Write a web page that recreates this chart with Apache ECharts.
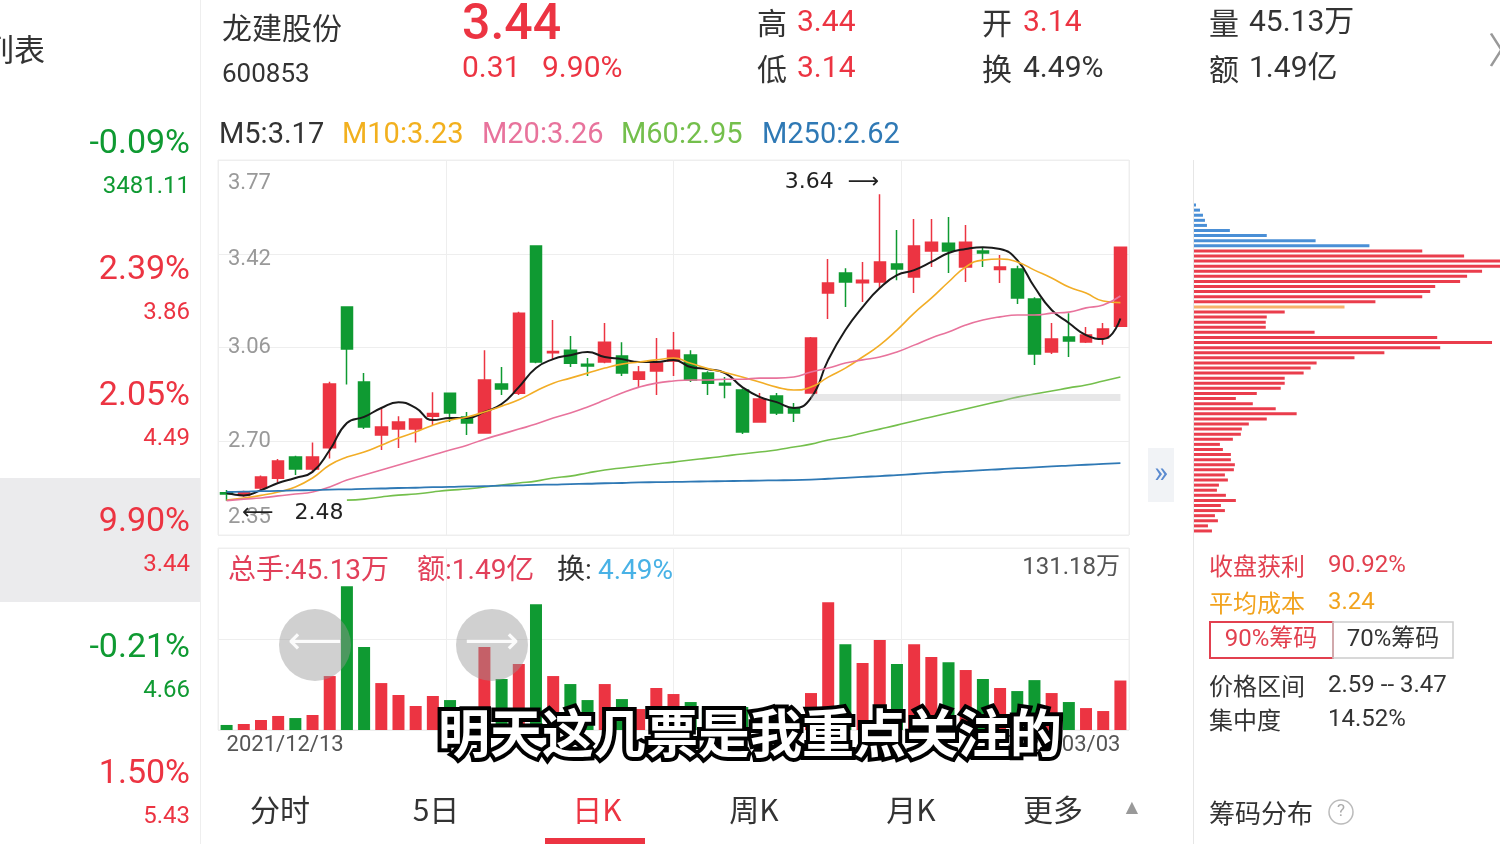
<!DOCTYPE html>
<html>
<head>
<meta charset="utf-8">
<title>龙建股份 日K</title>
<script src="https://cdn.jsdelivr.net/npm/echarts@6/dist/echarts.min.js"></script>
<style>
html, body { margin: 0; padding: 0; background: #fff; }
#main { width: 1500px; height: 844px; }
</style>
</head>
<body>
<div id="main"></div>
<script>
// trading days shown on the daily K chart
var dates = [
    '2021/12/13', '2021/12/14', '2021/12/15', '2021/12/16', '2021/12/17', '2021/12/20', '2021/12/21',
    '2021/12/22', '2021/12/23', '2021/12/24', '2021/12/27', '2021/12/28', '2021/12/29', '2021/12/30',
    '2021/12/31', '2022/01/04', '2022/01/05', '2022/01/06', '2022/01/07', '2022/01/10', '2022/01/11',
    '2022/01/12', '2022/01/13', '2022/01/14', '2022/01/17', '2022/01/18', '2022/01/19', '2022/01/20',
    '2022/01/21', '2022/01/24', '2022/01/25', '2022/01/26', '2022/01/27', '2022/01/28', '2022/02/07',
    '2022/02/08', '2022/02/09', '2022/02/10', '2022/02/11', '2022/02/14', '2022/02/15', '2022/02/16',
    '2022/02/17', '2022/02/18', '2022/02/21', '2022/02/22', '2022/02/23', '2022/02/24', '2022/02/25',
    '2022/02/28', '2022/03/01', '2022/03/02', '2022/03/03'
];
// open, close, low, high
var kData = [
    [2.51, 2.505, 2.48, 2.52], [2.50, 2.512, 2.495, 2.518], [2.528, 2.57, 2.52, 2.575], [2.565, 2.63, 2.55, 2.638],
    [2.645, 2.60, 2.577, 2.65], [2.60, 2.645, 2.59, 2.70], [2.68, 2.922, 2.64, 2.93], [3.213, 3.054, 2.92, 3.215],
    [2.929, 2.759, 2.751, 2.963], [2.729, 2.759, 2.672, 2.835], [2.751, 2.778, 2.679, 2.80], [2.751, 2.789, 2.70, 2.792],
    [2.80, 2.81, 2.767, 2.891], [2.887, 2.812, 2.778, 2.89], [2.797, 2.774, 2.729, 2.816], [2.736, 2.937, 2.733, 3.05],
    [2.922, 2.903, 2.88, 2.986], [2.887, 3.19, 2.88, 3.195], [3.444, 3.005, 3.0, 3.446], [3.04, 3.045, 3.013, 3.164],
    [3.05, 3.00, 2.986, 3.104], [2.997, 2.99, 2.952, 3.02], [3.005, 3.08, 3.0, 3.153], [3.028, 2.963, 2.952, 3.08],
    [2.94, 2.967, 2.91, 2.99], [2.971, 3.001, 2.88, 3.096], [3.009, 3.05, 2.952, 3.119], [3.032, 2.937, 2.929, 3.05],
    [2.963, 2.925, 2.88, 2.97], [2.925, 2.918, 2.868, 2.948], [2.899, 2.74, 2.732, 2.905], [2.778, 2.865, 2.775, 2.888],
    [2.876, 2.812, 2.804, 2.888], [2.83, 2.812, 2.778, 2.85], [2.888, 3.096, 2.885, 3.10], [3.266, 3.304, 3.168, 3.395],
    [3.342, 3.308, 3.213, 3.36], [3.305, 3.315, 3.232, 3.384], [3.308, 3.384, 3.285, 3.64], [3.376, 3.357, 3.315, 3.505],
    [3.327, 3.444, 3.266, 3.547], [3.425, 3.459, 3.365, 3.547], [3.455, 3.425, 3.342, 3.554], [3.365, 3.459, 3.308, 3.524],
    [3.425, 3.418, 3.365, 3.44], [3.355, 3.365, 3.304, 3.41], [3.357, 3.247, 3.225, 3.37], [3.244, 3.035, 2.994, 3.25],
    [3.043, 3.092, 3.035, 3.153], [3.10, 3.085, 3.024, 3.19], [3.081, 3.107, 3.077, 3.138], [3.096, 3.13, 3.07, 3.153],
    [3.14, 3.44, 3.14, 3.44]
];
// 成交量, 万手
var volumes = [
    4.6, 5.5, 9.1, 12.8, 10.9, 13.7, 49.2, 131.18, 75.6, 42.8, 31.9, 21.9, 31.0, 27.3, 20, 75.6, 46.5, 60.1,
    114.8, 49.2, 41.9, 27.3, 41.9, 28.2, 19.1, 38.3, 32.8, 25.5, 20, 15, 21, 18, 15, 12, 33.7, 116.6, 78.3, 61.0,
    82.0, 60.1, 78.3, 66.5, 61.9, 54.7, 46.5, 38.3, 35.5, 45.5, 33.7, 25.5, 20.0, 17.3, 45.13
];
var ma5 = [
    2.509, 2.50, 2.52, 2.547, 2.566, 2.589, 2.672, 2.774, 2.797, 2.831, 2.853, 2.831, 2.785, 2.793, 2.793, 2.816,
    2.846, 2.91, 2.982, 3.016, 3.031, 3.043, 3.024, 3.016, 3.005, 3.005, 3.013, 2.986, 2.978, 2.963, 2.91, 2.873,
    2.853, 2.831, 2.869, 3.013, 3.126, 3.213, 3.285, 3.334, 3.353, 3.384, 3.418, 3.433, 3.44, 3.433, 3.391, 3.289,
    3.202, 3.153, 3.107, 3.092, 3.17
];
var ma10 = [
    2.482, 2.49, 2.50, 2.513, 2.532, 2.566, 2.615, 2.645, 2.664, 2.69, 2.717, 2.74, 2.766, 2.785, 2.797, 2.816,
    2.838, 2.862, 2.895, 2.925, 2.944, 2.963, 2.982, 2.997, 3.005, 3.013, 3.02, 3.0, 2.98, 2.965, 2.948, 2.929,
    2.91, 2.899, 2.91, 2.948, 2.982, 3.024, 3.069, 3.126, 3.19, 3.247, 3.308, 3.365, 3.391, 3.395, 3.384, 3.353,
    3.323, 3.289, 3.266, 3.236, 3.23
];
var ma20 = [
    2.48, 2.486, 2.49, 2.498, 2.505, 2.513, 2.532, 2.558, 2.577, 2.596, 2.615, 2.634, 2.653, 2.672, 2.69, 2.713,
    2.732, 2.751, 2.77, 2.793, 2.812, 2.835, 2.861, 2.888, 2.91, 2.925, 2.933, 2.937, 2.937, 2.94, 2.94, 2.944,
    2.944, 2.948, 2.967, 2.982, 3.001, 3.013, 3.024, 3.043, 3.069, 3.096, 3.119, 3.145, 3.164, 3.176, 3.183, 3.183,
    3.19, 3.194, 3.21, 3.221, 3.255
];
var ma60 = [
    null, null, null, null, null, null, null, 2.482, 2.486, 2.494, 2.501, 2.505, 2.513, 2.52, 2.524, 2.532,
    2.539, 2.547, 2.554, 2.566, 2.573, 2.585, 2.596, 2.604, 2.611, 2.619, 2.626, 2.634, 2.641, 2.649, 2.657, 2.664,
    2.672, 2.683, 2.694, 2.71, 2.721, 2.736, 2.751, 2.766, 2.782, 2.797, 2.812, 2.827, 2.842, 2.857, 2.872, 2.884,
    2.895, 2.907, 2.918, 2.933, 2.948
];
var ma250 = [
    2.513, 2.514, 2.516, 2.517, 2.519, 2.52, 2.522, 2.523, 2.525, 2.526, 2.528, 2.529, 2.531, 2.532, 2.534, 2.535,
    2.537, 2.538, 2.54, 2.541, 2.543, 2.544, 2.546, 2.547, 2.549, 2.55, 2.551, 2.552, 2.553, 2.554, 2.555, 2.556,
    2.557, 2.558, 2.56, 2.563, 2.566, 2.57, 2.573, 2.577, 2.581, 2.585, 2.589, 2.592, 2.596, 2.599, 2.603, 2.606,
    2.61, 2.613, 2.616, 2.619, 2.622
];
var priceTicks = ['2.35', '2.70', '3.06', '3.42', '3.77'];
// 筹码分布, top row = highest price
var chipVolume = [
    2, 6, 9, 11, 13, 36, 73, 122, 176, 229, 271, 307, 307, 289, 274, 267, 242, 237, 229, 182, 151, 91, 73, 72,
    72, 121, 244, 299, 247, 191, 161, 123, 117, 110, 91, 91, 87, 63, 42, 59, 82, 103, 73, 55, 48, 47, 39, 26,
    29, 37, 37, 41, 40, 31, 34, 25, 23, 32, 42, 27, 31, 21, 24, 14, 18
];
var chipBlueRows = 9;   // rows above the last price
var chipAvgRow = 20;    // average cost row
var supportLevel = 2.872, supportFrom = 34;

var priceMin = 2.35, priceMax = 3.77, priceStep = 0.355;
var volMax = 166;

var RED = '#ec3442', GREEN = '#0f9a32';
var FONT = 'Roboto, "Noto Sans CJK SC", sans-serif';
var CJK = '"Noto Sans CJK SC", sans-serif';

function volColor(i) {
    return kData[i][1] >= kData[i][0] ? RED : GREEN;
}

var hiIdx = 0, loIdx = 0;
for (var i = 0; i < kData.length; i++) {
    if (kData[i][3] > kData[hiIdx][3]) hiIdx = i;
    if (kData[i][2] < kData[loIdx][2]) loIdx = i;
}
var maxVol = Math.max.apply(null, volumes);

function T(x, y, s, size, color, align, weight, font) {
    return {
        type: 'text', x: x, y: y, silent: true, z: 10,
        style: {
            text: s, fill: color,
            font: (weight || 'normal') + ' ' + size + 'px ' + (font || FONT),
            align: align || 'left', verticalAlign: 'middle',
            textAlign: align || 'left', textVerticalAlign: 'middle'
        }
    };
}

var g = [];
// left stock list
g.push({type: 'rect', shape: {x: 0, y: 478, width: 200, height: 124}, style: {fill: '#ebebed'}, silent: true});
g.push({type: 'line', shape: {x1: 200.5, y1: 0, x2: 200.5, y2: 844}, style: {stroke: '#eeeeee', lineWidth: 1}, silent: true});
g.push(T(-17, 49, '列表', 31, '#333', 'left', 'normal', CJK));
var listRows = [
    ['-0.09%', '3481.11', GREEN], ['2.39%', '3.86', RED], ['2.05%', '4.49', RED],
    ['9.90%', '3.44', RED], ['-0.21%', '4.66', GREEN], ['1.50%', '5.43', RED]
];
for (var r = 0; r < listRows.length; r++) {
    g.push(T(190, 144 + r * 126, listRows[r][0], 34, listRows[r][2], 'right'));
    g.push(T(190, 187 + r * 126, listRows[r][1], 24, listRows[r][2], 'right'));
}
// header
g.push(T(222, 28, '龙建股份', 30, '#333', 'left', 'normal', CJK));
g.push(T(222, 75, '600853', 26, '#333'));
g.push(T(462, 26, '3.44', 50, RED, 'left', '500'));
g.push(T(462, 69, '0.31', 30, RED));
g.push(T(542, 69, '9.90%', 30, RED));
g.push(T(757, 23, '高', 30, '#333', 'left', 'normal', CJK));
g.push(T(797, 23, '3.44', 30, RED));
g.push(T(757, 69, '低', 30, '#333', 'left', 'normal', CJK));
g.push(T(797, 69, '3.14', 30, RED));
g.push(T(982, 23, '开', 30, '#333', 'left', 'normal', CJK));
g.push(T(1023, 23, '3.14', 30, RED));
g.push(T(982, 69, '换', 30, '#333', 'left', 'normal', CJK));
g.push(T(1023, 69, '4.49%', 30, '#333'));
g.push(T(1209, 23, '量', 30, '#333', 'left', 'normal', CJK));
g.push(T(1249, 23, '45.13万', 30, '#333'));
g.push(T(1209, 69, '额', 30, '#333', 'left', 'normal', CJK));
g.push(T(1249, 69, '1.49亿', 30, '#333'));
g.push(T(1488, 50, '〉', 36, '#999', 'left', 'normal', CJK));
// MA legend
g.push(T(219, 136, 'M5:3.17', 29, '#333'));
g.push(T(342, 136, 'M10:3.23', 29, '#f2b01e'));
g.push(T(482, 136, 'M20:3.26', 29, '#e8739c'));
g.push(T(621, 136, 'M60:2.95', 29, '#74bf4c'));
g.push(T(762, 136, 'M250:2.62', 29, '#2f79b5'));
// volume header
g.push(T(228, 572, '总手:45.13万', 28, '#e2405a'));
g.push(T(417, 572, '额:1.49亿', 28, '#e2405a'));
g.push(T(557, 572, '换:', 28, '#333'));
g.push(T(598, 572, '4.49%', 28, '#49b2e6'));
g.push(T(1120, 568, maxVol.toFixed(2) + '万', 24, '#555', 'right'));
// slide arrows over the volume pane
g.push({type: 'circle', shape: {cx: 315, cy: 645, r: 36}, style: {fill: 'rgba(150,150,150,0.45)'}, z: 50, silent: true});
g.push({type: 'circle', shape: {cx: 492, cy: 645, r: 36}, style: {fill: 'rgba(150,150,150,0.45)'}, z: 50, silent: true});
var arrL = T(315, 643, '⟵', 38, 'rgba(255,255,255,0.9)', 'center', 'normal', '"DejaVu Sans"'); arrL.z = 51;
var arrR = T(492, 643, '⟶', 38, 'rgba(255,255,255,0.9)', 'center', 'normal', '"DejaVu Sans"'); arrR.z = 51;
g.push(arrL, arrR);
// expand button
g.push({type: 'rect', shape: {x: 1148, y: 448, width: 26, height: 54}, style: {fill: '#f1f3f6'}, silent: true});
g.push(T(1161, 474, '»', 30, '#5b8bd0', 'center'));
// right panel
g.push({type: 'line', shape: {x1: 1193.5, y1: 160, x2: 1193.5, y2: 844}, style: {stroke: '#e6e6e6', lineWidth: 1}, silent: true});
g.push(T(1209, 566, '收盘获利', 24, '#e2404f', 'left', 'normal', CJK));
g.push(T(1328, 566, '90.92%', 24, '#e2404f'));
g.push(T(1209, 603, '平均成本', 24, '#f2a31e', 'left', 'normal', CJK));
g.push(T(1328, 603, '3.24', 24, '#f2a31e'));
g.push({type: 'rect', shape: {x: 1210, y: 622, width: 123, height: 36}, style: {fill: 'none', stroke: '#e2404f', lineWidth: 2}, silent: true});
g.push({type: 'rect', shape: {x: 1333, y: 622, width: 120, height: 36}, style: {fill: 'none', stroke: '#cccccc', lineWidth: 1.5}, silent: true});
g.push(T(1271, 640, '90%筹码', 24, '#e2404f', 'center'));
g.push(T(1393, 640, '70%筹码', 24, '#333', 'center'));
g.push(T(1209, 686, '价格区间', 24, '#333', 'left', 'normal', CJK));
g.push(T(1328, 686, '2.59 -- 3.47', 24, '#333'));
g.push(T(1209, 720, '集中度', 24, '#333', 'left', 'normal', CJK));
g.push(T(1328, 720, '14.52%', 24, '#333'));
g.push(T(1209, 813, '筹码分布', 26, '#333', 'left', 'normal', CJK));
g.push({type: 'circle', shape: {cx: 1341, cy: 812, r: 12}, style: {fill: 'none', stroke: '#bbbbbb', lineWidth: 1.5}, silent: true});
g.push(T(1341, 812, '?', 17, '#aaa', 'center'));
// bottom tabs
var tabs = [['分时', 280], ['5日', 436], ['日K', 597], ['周K', 754], ['月K', 911], ['更多', 1053]];
for (var t = 0; t < tabs.length; t++) {
    g.push(T(tabs[t][1], 810, tabs[t][0], 30, t === 2 ? RED : '#333', 'center', 'normal', CJK));
}
g.push(T(1132, 808, '▲', 16, '#999', 'center', 'normal', '"DejaVu Sans"'));
g.push({type: 'rect', shape: {x: 545, y: 838, width: 100, height: 6}, style: {fill: RED}, silent: true});
// subtitle caption
var capStroke = T(750, 733, '明天这几票是我重点关注的', 52, '#000', 'center', 'bold', CJK);
capStroke.style.stroke = '#000'; capStroke.style.lineWidth = 8; capStroke.z = 100;
var capFill = T(750, 733, '明天这几票是我重点关注的', 52, '#fff', 'center', 'bold', CJK);
capFill.z = 101;
g.push(capStroke, capFill);

var option = {
    animation: false,
    backgroundColor: '#fff',
    textStyle: {fontFamily: FONT},
    grid: [
        {left: 218, top: 160, width: 911, height: 375, show: true, borderColor: '#eeeeee', borderWidth: 1},
        {left: 218, top: 548, width: 911, height: 182, show: true, borderColor: '#eeeeee', borderWidth: 1},
        {left: 1194, top: 202.5, width: 307, height: 331}
    ],
    xAxis: [
        {type: 'category', gridIndex: 0, data: dates, boundaryGap: true,
            axisLine: {show: false}, axisTick: {show: false}, axisLabel: {show: false}, splitLine: {show: false}},
        {type: 'category', gridIndex: 1, data: dates, boundaryGap: true,
            axisLine: {show: false}, axisTick: {show: false}, splitLine: {show: false},
            axisLabel: {
                color: '#555', fontSize: 22, margin: 4,
                interval: function (idx) { return idx === 0 || idx === dates.length - 1; },
                alignMinLabel: 'left', alignMaxLabel: 'right'
            }},
        {type: 'value', gridIndex: 0, min: 0, max: 4, interval: 1, position: 'top',
            axisLine: {show: false}, axisTick: {show: false}, axisLabel: {show: false},
            splitLine: {show: true, lineStyle: {color: '#eeeeee'}}},
        {type: 'value', gridIndex: 1, min: 0, max: 4, interval: 1, position: 'top',
            axisLine: {show: false}, axisTick: {show: false}, axisLabel: {show: false},
            splitLine: {show: true, lineStyle: {color: '#eeeeee'}}},
        {type: 'value', gridIndex: 2, min: 0, max: 307, show: false}
    ],
    yAxis: [
        {type: 'value', gridIndex: 0, min: priceMin, max: priceMax, interval: priceStep, scale: true,
            axisLine: {show: false}, axisTick: {show: false},
            splitLine: {show: true, lineStyle: {color: '#eeeeee'}},
            axisLabel: {
                inside: true, color: '#999', fontSize: 22, margin: 10,
                verticalAlignMaxLabel: 'top', verticalAlignMinLabel: 'bottom',
                formatter: function (v) {
                    var k = Math.round((v - priceMin) / priceStep);
                    var s = priceTicks[k] || '';
                    if (k === 4) return '{top|' + s + '}';
                    if (k === 3) return '{low|' + s + '}';
                    if (k === 0) return '{bot|' + s + '}';
                    return s;
                },
                rich: {
                    top: {color: '#999', fontSize: 22, padding: [12, 0, 0, 0]},
                    low: {color: '#999', fontSize: 22, padding: [12, 0, 0, 0]},
                    bot: {color: '#999', fontSize: 22, padding: [0, 0, 6, 0]}
                }
            }},
        {type: 'value', gridIndex: 1, min: 0, max: volMax, interval: volMax / 2,
            axisLine: {show: false}, axisTick: {show: false}, axisLabel: {show: false},
            splitLine: {show: true, lineStyle: {color: '#eeeeee'}}},
        {type: 'category', gridIndex: 2, inverse: true, show: false,
            data: chipVolume.map(function (v, i) { return i; })}
    ],
    graphic: {elements: g},
    series: [
        {
            name: 'K', type: 'candlestick', xAxisIndex: 0, yAxisIndex: 0,
            data: kData, barWidth: 12,
            itemStyle: {color: RED, color0: GREEN, borderColor: RED, borderColor0: GREEN, borderWidth: 1.5},
            markPoint: {
                symbol: 'circle', symbolSize: 1, itemStyle: {color: 'rgba(0,0,0,0)'},
                data: [
                    {coord: [hiIdx, kData[hiIdx][3]], value: kData[hiIdx][3],
                        label: {show: true, position: 'left', distance: 0, offset: [0, -12], color: '#222', fontSize: 22,
                            fontFamily: '"DejaVu Sans", Roboto',
                            formatter: function (p) { return p.value.toFixed(2) + '  ⟶'; }}},
                    {coord: [loIdx, kData[loIdx][2]], value: kData[loIdx][2],
                        label: {show: true, position: 'right', distance: 0, offset: [15, 13], color: '#222', fontSize: 22,
                            fontFamily: '"DejaVu Sans", Roboto',
                            formatter: function (p) { return '⟵   ' + p.value.toFixed(2); }}}
                ]
            },
            markLine: {
                silent: true, symbol: 'none', label: {show: false},
                lineStyle: {color: 'rgba(185,185,190,0.35)', width: 7, type: 'solid'},
                data: [[{coord: [supportFrom, supportLevel]}, {coord: [dates.length - 1, supportLevel]}]]
            }
        },
        {name: 'M5', type: 'line', data: ma5, smooth: true, symbol: 'none', lineStyle: {color: '#1a1a1a', width: 2}, z: 3},
        {name: 'M10', type: 'line', data: ma10, smooth: true, symbol: 'none', lineStyle: {color: '#f2ad26', width: 1.6}, z: 3},
        {name: 'M20', type: 'line', data: ma20, smooth: true, symbol: 'none', lineStyle: {color: '#e8739c', width: 1.6}, z: 3},
        {name: 'M60', type: 'line', data: ma60, smooth: true, symbol: 'none', lineStyle: {color: '#74bf4c', width: 1.6}, z: 3},
        {name: 'M250', type: 'line', data: ma250, smooth: true, symbol: 'none', lineStyle: {color: '#2f79b5', width: 1.8}, z: 3},
        {
            name: 'VOL', type: 'bar', xAxisIndex: 1, yAxisIndex: 1, barWidth: 12,
            data: volumes.map(function (v, i) { return {value: v, itemStyle: {color: volColor(i)}}; })
        },
        {
            name: 'CHIP', type: 'bar', xAxisIndex: 4, yAxisIndex: 2, barWidth: 3,
            data: chipVolume.map(function (v, i) {
                var c = i < chipBlueRows ? '#4a8fd6' : (i === chipAvgRow ? '#f6b26b' : '#ea3d4c');
                return {value: v, itemStyle: {color: c}};
            })
        }
    ]
};

var chart = echarts.init(document.getElementById('main'));
chart.setOption(option);
</script>
</body>
</html>
